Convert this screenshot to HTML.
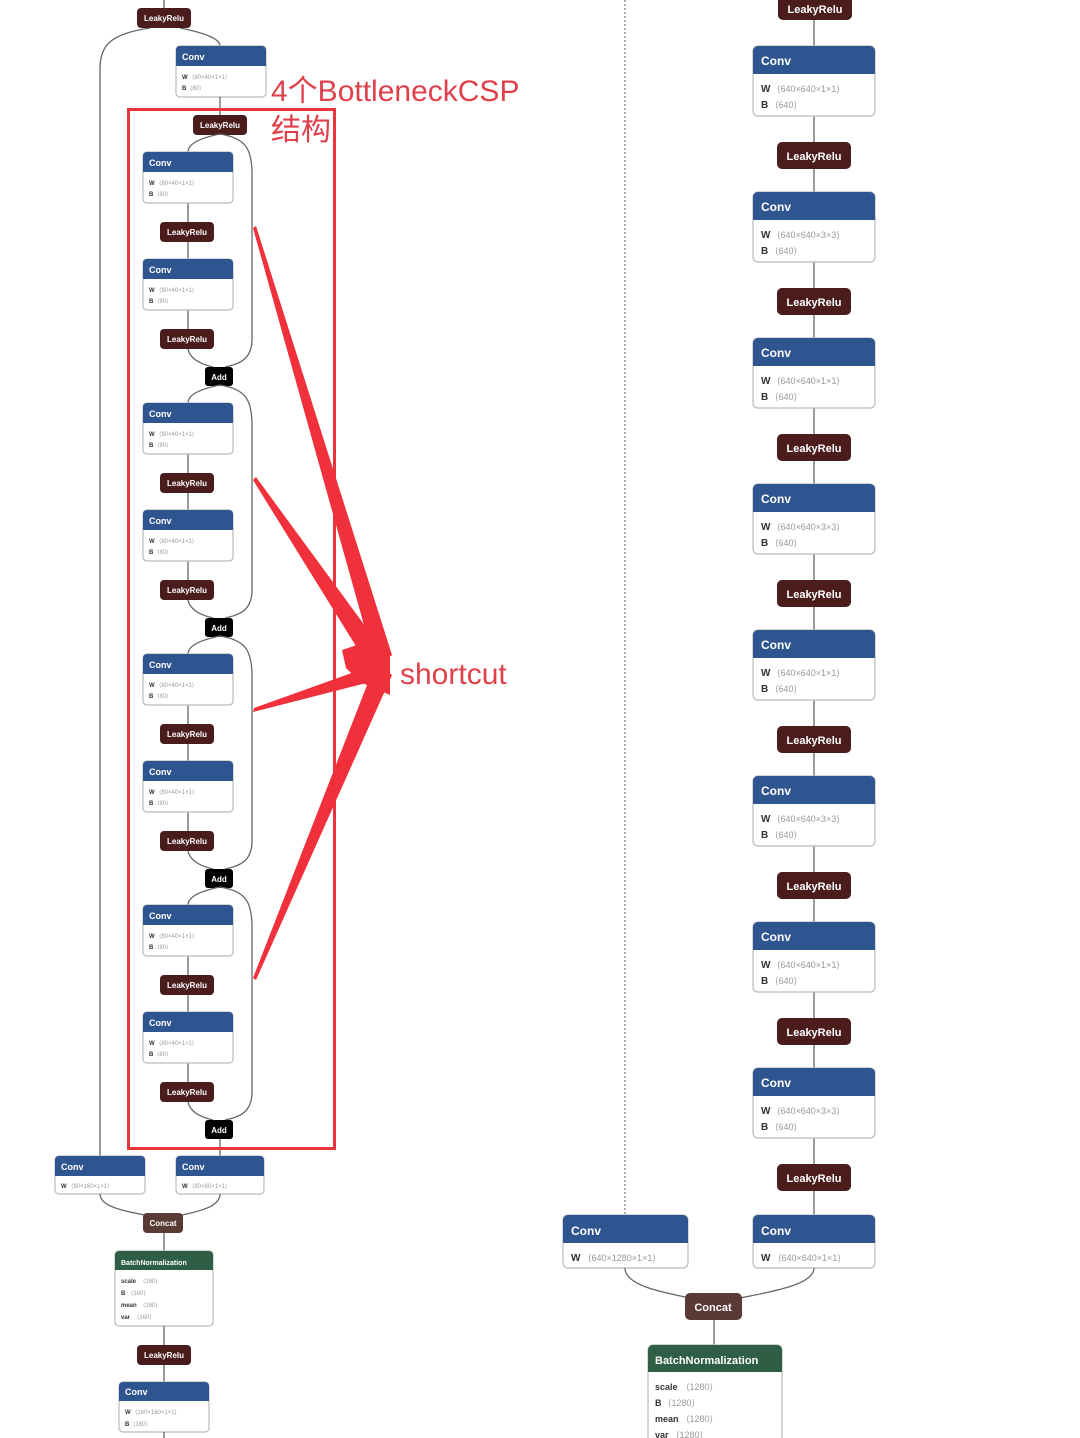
<!DOCTYPE html>
<html><head><meta charset="utf-8"><style>
html,body{margin:0;padding:0;background:#fff;}
svg{display:block;font-family:"Liberation Sans","Noto Sans CJK SC",sans-serif;}
.e{fill:none;stroke:#666;stroke-width:1.3}
.h{fill:#2f5590}.b{fill:#fff;stroke:#bbb;stroke-width:1.2}
.lr{fill:#4a1c1c}.t{fill:#fff;font-weight:bold}.s{fill:#999}.k{fill:#333;font-weight:bold}
</style></head><body>
<svg width="1080" height="1438" viewBox="0 0 1080 1438" xmlns="http://www.w3.org/2000/svg">
<defs>
<g id="lconv"><rect class="b" x="0" y="0" width="90" height="51" rx="4"/><path class="h" d="M4 0H86A4 4 0 0 1 90 4V20H0V4A4 4 0 0 1 4 0Z"/><text class="t" x="6" y="14" font-size="9">Conv</text><text class="k" x="6" y="33" font-size="6">W</text><text class="s" x="16" y="33" font-size="6">⟨80×40×1×1⟩</text><text class="k" x="6" y="44" font-size="6">B</text><text class="s" x="14" y="44" font-size="6">⟨80⟩</text></g>
<g id="llr"><rect class="lr" x="0" y="0" width="54" height="20" rx="4"/><text class="t" x="27" y="13" font-size="8" text-anchor="middle">LeakyRelu</text></g>
<g id="add"><rect x="0" y="0" width="28" height="19" rx="3" fill="#000"/><text class="t" x="14" y="13" font-size="8" text-anchor="middle">Add</text></g>
<g id="rconv"><rect class="b" x="0" y="0" width="122" height="70" rx="5"/><path class="h" d="M5 0H117A5 5 0 0 1 122 5V28H0V5A5 5 0 0 1 5 0Z"/><text class="t" x="8" y="19" font-size="12">Conv</text><text class="k" x="8" y="46" font-size="10">W</text><text class="s" x="24" y="46" font-size="9">⟨640×640×1×1⟩</text><text class="k" x="8" y="62" font-size="10">B</text><text class="s" x="22" y="62" font-size="9">⟨640⟩</text></g>
<g id="rconv3"><rect class="b" x="0" y="0" width="122" height="70" rx="5"/><path class="h" d="M5 0H117A5 5 0 0 1 122 5V28H0V5A5 5 0 0 1 5 0Z"/><text class="t" x="8" y="19" font-size="12">Conv</text><text class="k" x="8" y="46" font-size="10">W</text><text class="s" x="24" y="46" font-size="9">⟨640×640×3×3⟩</text><text class="k" x="8" y="62" font-size="10">B</text><text class="s" x="22" y="62" font-size="9">⟨640⟩</text></g>
<g id="rlr"><rect class="lr" x="0" y="0" width="74" height="27" rx="5"/><text class="t" x="37" y="18" font-size="11" text-anchor="middle">LeakyRelu</text></g>
<g id="block">
<path class="e" d="M220 0 C200 4 188 10 188 18"/>
<path class="e" d="M220 0 C245 4 252 14 252 40 V205 C252 225 240 230 225 233"/>
<line class="e" x1="188" y1="69" x2="188" y2="88"/>
<line class="e" x1="188" y1="108" x2="188" y2="125"/>
<line class="e" x1="188" y1="175" x2="188" y2="195"/>
<path class="e" d="M188 215 C190 225 200 230 213 233"/>
<use href="#lconv" x="143" y="18"/>
<use href="#llr" x="160" y="88"/>
<use href="#lconv" x="143" y="125"/>
<use href="#llr" x="160" y="195"/>
<use href="#add" x="205" y="233"/>
</g>
</defs>

<line class="e" x1="164" y1="0" x2="164" y2="8"/>
<path class="e" d="M150 28 C110 34 100 45 100 70 V1140 C100 1150 100 1156 100 1156"/>
<path class="e" d="M180 28 C210 34 220 40 220 46"/>
<use href="#llr" x="137" y="8"/>
<use href="#lconv" x="176" y="46"/>
<line class="e" x1="220" y1="97" x2="220" y2="115"/>
<use href="#llr" x="193" y="115"/>
<use href="#block" x="0" y="134"/>
<use href="#block" x="0" y="385"/>
<use href="#block" x="0" y="636"/>
<use href="#block" x="0" y="887"/>
<line class="e" x1="220" y1="1139" x2="220" y2="1156"/>

<g>
<rect class="b" x="55" y="1156" width="90" height="38" rx="4"/><path class="h" d="M59 1156H141A4 4 0 0 1 145 1160V1176H55V1160A4 4 0 0 1 59 1156Z"/><text class="t" x="61" y="1170" font-size="9">Conv</text><text class="k" x="61" y="1188" font-size="6">W</text><text class="s" x="71" y="1188" font-size="6">⟨80×160×1×1⟩</text>
<rect class="b" x="176" y="1156" width="88" height="38" rx="4"/><path class="h" d="M180 1156H260A4 4 0 0 1 264 1160V1176H176V1160A4 4 0 0 1 180 1156Z"/><text class="t" x="182" y="1170" font-size="9">Conv</text><text class="k" x="182" y="1188" font-size="6">W</text><text class="s" x="192" y="1188" font-size="6">⟨80×80×1×1⟩</text>
</g>
<path class="e" d="M100 1194 C100 1208 130 1212 150 1216"/>
<path class="e" d="M220 1194 C220 1208 195 1212 178 1216"/>
<rect x="143" y="1213" width="40" height="20" rx="4" fill="#5a3a35"/><text class="t" x="163" y="1226" font-size="8" text-anchor="middle">Concat</text>
<line class="e" x1="164" y1="1233" x2="164" y2="1251"/>
<rect class="b" x="115" y="1251" width="98" height="75" rx="4"/><path d="M119 1251H209A4 4 0 0 1 213 1255V1270H115V1255A4 4 0 0 1 119 1251Z" fill="#2e5e45"/>
<text class="t" x="121" y="1265" font-size="7">BatchNormalization</text>
<text class="k" x="121" y="1283" font-size="6">scale</text><text class="s" x="143" y="1283" font-size="6">⟨160⟩</text>
<text class="k" x="121" y="1295" font-size="6">B</text><text class="s" x="131" y="1295" font-size="6">⟨160⟩</text>
<text class="k" x="121" y="1307" font-size="6">mean</text><text class="s" x="143" y="1307" font-size="6">⟨160⟩</text>
<text class="k" x="121" y="1319" font-size="6">var</text><text class="s" x="137" y="1319" font-size="6">⟨160⟩</text>
<line class="e" x1="164" y1="1326" x2="164" y2="1345"/>
<use href="#llr" x="137" y="1345"/>
<line class="e" x1="164" y1="1365" x2="164" y2="1382"/>
<rect class="b" x="119" y="1382" width="90" height="50" rx="4"/><path class="h" d="M123 1382H205A4 4 0 0 1 209 1386V1401H119V1386A4 4 0 0 1 123 1382Z"/><text class="t" x="125" y="1395" font-size="9">Conv</text><text class="k" x="125" y="1414" font-size="6">W</text><text class="s" x="135" y="1414" font-size="6">⟨160×160×1×1⟩</text><text class="k" x="125" y="1426" font-size="6">B</text><text class="s" x="133" y="1426" font-size="6">⟨160⟩</text>
<line class="e" x1="164" y1="1432" x2="164" y2="1438"/>

<rect x="128.5" y="109.5" width="206" height="1039" fill="none" stroke="#e8343c" stroke-width="3"/>
<text x="271" y="101" font-size="30" fill="#e0404a">4个BottleneckCSP</text>
<text x="271" y="140" font-size="30" fill="#e0404a">结构</text>
<g fill="#f0303a">
<polygon points="253,228 256,226 392,655 376,668"/>
<polygon points="253,480 256,477 390,660 372,672"/>
<polygon points="253,712 254,708 388,660 386,678"/>
<polygon points="253,978 256,980 392,675 376,662"/>
<polygon points="342,650 372,640 390,648 390,695 360,682 346,668"/>
</g>
<text x="400" y="684" font-size="30" fill="#e0404a">shortcut</text>

<line x1="625" y1="0" x2="625" y2="1215" stroke="#777" stroke-width="1.2" stroke-dasharray="2,2"/>
<line class="e" x1="814" y1="20" x2="814" y2="1215"/>
<rect class="lr" x="778" y="-7" width="74" height="27" rx="5"/><text class="t" x="815" y="13" font-size="11" text-anchor="middle">LeakyRelu</text>
<use href="#rconv" x="753" y="46"/>
<use href="#rlr" x="777" y="142"/>
<use href="#rconv3" x="753" y="192"/>
<use href="#rlr" x="777" y="288"/>
<use href="#rconv" x="753" y="338"/>
<use href="#rlr" x="777" y="434"/>
<use href="#rconv3" x="753" y="484"/>
<use href="#rlr" x="777" y="580"/>
<use href="#rconv" x="753" y="630"/>
<use href="#rlr" x="777" y="726"/>
<use href="#rconv3" x="753" y="776"/>
<use href="#rlr" x="777" y="872"/>
<use href="#rconv" x="753" y="922"/>
<use href="#rlr" x="777" y="1018"/>
<use href="#rconv3" x="753" y="1068"/>
<use href="#rlr" x="777" y="1164"/>

<g>
<rect class="b" x="563" y="1215" width="125" height="53" rx="5"/><path class="h" d="M568 1215H683A5 5 0 0 1 688 1220V1243H563V1220A5 5 0 0 1 568 1215Z"/><text class="t" x="571" y="1235" font-size="12">Conv</text><text class="k" x="571" y="1261" font-size="10">W</text><text class="s" x="588" y="1261" font-size="9">⟨640×1280×1×1⟩</text>
<rect class="b" x="753" y="1215" width="122" height="53" rx="5"/><path class="h" d="M758 1215H870A5 5 0 0 1 875 1220V1243H753V1220A5 5 0 0 1 758 1215Z"/><text class="t" x="761" y="1235" font-size="12">Conv</text><text class="k" x="761" y="1261" font-size="10">W</text><text class="s" x="778" y="1261" font-size="9">⟨640×640×1×1⟩</text>
</g>
<path class="e" d="M625 1268 C625 1285 660 1292 690 1298"/>
<path class="e" d="M814 1268 C814 1285 770 1292 740 1298"/>
<rect x="685" y="1293" width="57" height="27" rx="5" fill="#5a3a35"/><text class="t" x="713" y="1311" font-size="11" text-anchor="middle">Concat</text>
<line class="e" x1="714" y1="1320" x2="714" y2="1345"/>
<rect class="b" x="648" y="1345" width="134" height="100" rx="5"/><path d="M653 1345H777A5 5 0 0 1 782 1350V1372H648V1350A5 5 0 0 1 653 1345Z" fill="#2e5e45"/>
<text class="t" x="655" y="1364" font-size="11">BatchNormalization</text>
<text class="k" x="655" y="1390" font-size="9">scale</text><text class="s" x="686" y="1390" font-size="9">⟨1280⟩</text>
<text class="k" x="655" y="1406" font-size="9">B</text><text class="s" x="668" y="1406" font-size="9">⟨1280⟩</text>
<text class="k" x="655" y="1422" font-size="9">mean</text><text class="s" x="686" y="1422" font-size="9">⟨1280⟩</text>
<text class="k" x="655" y="1438" font-size="9">var</text><text class="s" x="676" y="1438" font-size="9">⟨1280⟩</text>
</svg>
</body></html>
